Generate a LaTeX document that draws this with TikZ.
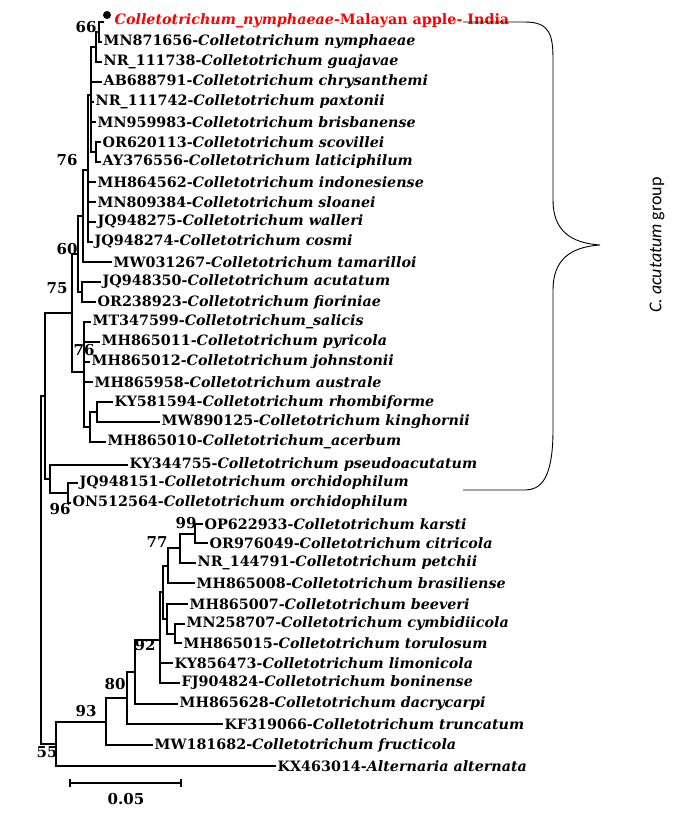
\documentclass[tikz,border=0pt]{standalone}
\usepackage{fontspec}
\setmainfont{DejaVu Serif}
\newfontfamily\labfont{Carlito}
\begin{document}
\begin{tikzpicture}[x=1pt,y=-1pt,
  leaf/.style={anchor=west,inner xsep=1.5pt,inner ysep=0pt,font=\fontsize{14.3}{15}\selectfont\bfseries},
  boot/.style={inner sep=0pt,font=\fontsize{15}{16}\selectfont\bfseries},
  br/.style={line width=1.2pt}]
\useasboundingbox (0,0) rectangle (685,816);
\newcommand\lf[5]{\node[leaf] (#1) at (#2,#3) {#4-\textit{#5}};}
% leaves
\coordinate (t1) at (104,22);
\node[leaf,text=red] (l1) at (113,21) {\textit{Colletotrichum\_nymphaeae}-Malayan apple- India};
\node[circle,fill=black,inner sep=0pt,minimum size=8pt] (dot) at (107,15) {};
\lf{l2}{102}{42}{MN871656}{Colletotrichum nymphaeae}
\lf{l3}{102}{62}{NR\_111738}{Colletotrichum guajavae}
\lf{l4}{102}{82}{AB688791}{Colletotrichum chrysanthemi}
\lf{l5}{94}{102}{NR\_111742}{Colletotrichum paxtonii}
\lf{l6}{96}{122}{MN959983}{Colletotrichum brisbanense}
\lf{l7}{101}{142}{OR620113}{Colletotrichum scovillei}
\lf{l8}{101}{162}{AY376556}{Colletotrichum laticiphilum}
\lf{l9}{96}{182}{MH864562}{Colletotrichum indonesiense}
\lf{l10}{96}{202}{MN809384}{Colletotrichum sloanei}
\lf{l11}{96}{222}{JQ948275}{Colletotrichum walleri}
\lf{l12}{93}{242}{JQ948274}{Colletotrichum cosmi}
\lf{l13}{112}{262}{MW031267}{Colletotrichum tamarilloi}
\lf{l14}{101}{282}{JQ948350}{Colletotrichum acutatum}
\lf{l15}{96}{302}{OR238923}{Colletotrichum fioriniae}
\lf{l16}{91}{322}{MT347599}{Colletotrichum\_salicis}
\lf{l17}{100}{342}{MH865011}{Colletotrichum pyricola}
\lf{l18}{90}{362}{MH865012}{Colletotrichum johnstonii}
\lf{l19}{93}{382}{MH865958}{Colletotrichum australe}
\lf{l20}{113}{402}{KY581594}{Colletotrichum rhombiforme}
\lf{l21}{160}{422}{MW890125}{Colletotrichum kinghornii}
\lf{l22}{106}{442}{MH865010}{Colletotrichum\_acerbum}
\lf{l23}{128}{465}{KY344755}{Colletotrichum pseudoacutatum}
\lf{l24}{78}{483}{JQ948151}{Colletotrichum orchidophilum}
\lf{l25}{71}{503}{ON512564}{Colletotrichum orchidophilum}
\lf{l26}{203}{524}{OP622933}{Colletotrichum karsti}
\lf{l27}{208}{543}{OR976049}{Colletotrichum citricola}
\lf{l28}{196}{563}{NR\_144791}{Colletotrichum petchii}
\lf{l29}{195}{583}{MH865008}{Colletotrichum brasiliense}
\lf{l30}{188}{604}{MH865007}{Colletotrichum beeveri}
\lf{l31}{185}{624}{MN258707}{Colletotrichum cymbidiicola}
\lf{l32}{182}{643}{MH865015}{Colletotrichum torulosum}
\lf{l33}{173}{663}{KY856473}{Colletotrichum limonicola}
\lf{l34}{180}{683}{FJ904824}{Colletotrichum boninense}
\lf{l35}{178}{704}{MH865628}{Colletotrichum dacrycarpi}
\lf{l36}{223}{724}{KF319066}{Colletotrichum truncatum}
\lf{l37}{153}{745}{MW181682}{Colletotrichum fructicola}
\lf{l38}{276}{766}{KX463014}{Alternaria alternata}
% internal nodes
\coordinate (N66) at (99,32);
\coordinate (Nnym) at (96,47);
\coordinate (Nor) at (96,152);
\coordinate (Ntop) at (91,95);
\coordinate (Nbig) at (88,170);
\coordinate (N76a) at (83,216);
\coordinate (Njq) at (82,292);
\coordinate (N60) at (78,254);
\coordinate (Nk) at (97,412);
\coordinate (Nkr) at (90,427);
\coordinate (N76b) at (84,372);
\coordinate (N75) at (72,313);
\coordinate (N96) at (68,493);
\coordinate (Nlow) at (50,479);
\coordinate (NA) at (45,396);
\coordinate (N99) at (195,534);
\coordinate (Nx) at (180,548);
\coordinate (N77) at (168,566);
\coordinate (Nmn) at (175,634);
\coordinate (Nmh) at (167,619);
\coordinate (Nb) at (163,592);
\coordinate (Npoly) at (160,640);
\coordinate (N92) at (135,672);
\coordinate (N80) at (127,698);
\coordinate (N93) at (106,722);
\coordinate (N55) at (56,744);
\coordinate (Root) at (41,570);
% branches
\begin{scope}[br]
\draw (N66) |- (t1); \draw (N66) |- (l2.west);
\draw (Nnym) |- (N66); \draw (Nnym) |- (l3.west);
\draw (Nor) |- (l7.west); \draw (Nor) |- (l8.west);
\draw (Ntop) |- (Nnym); \draw (Ntop) |- (l4.west); \draw (Ntop) |- (l5.west); \draw (Ntop) |- (l6.west); \draw (Ntop) |- (Nor);
\draw (Nbig) |- (Ntop); \draw (Nbig) |- (l9.west); \draw (Nbig) |- (l10.west); \draw (Nbig) |- (l11.west); \draw (Nbig) |- (l12.west);
\draw (N76a) |- (Nbig); \draw (N76a) |- (l13.west);
\draw (Njq) |- (l14.west); \draw (Njq) |- (l15.west);
\draw (N60) |- (N76a); \draw (N60) |- (Njq);
\draw (Nk) |- (l20.west); \draw (Nk) |- (l21.west);
\draw (Nkr) |- (Nk); \draw (Nkr) |- (l22.west);
\draw (N76b) |- (l16.west); \draw (N76b) |- (l17.west); \draw (N76b) |- (l18.west); \draw (N76b) |- (l19.west); \draw (N76b) |- (Nkr);
\draw (N75) |- (N60); \draw (N75) |- (N76b);
\draw (N96) |- (l24.west); \draw (N96) |- (l25.west);
\draw (Nlow) |- (l23.west); \draw (Nlow) |- (N96);
\draw (NA) |- (N75); \draw (NA) |- (Nlow);
\draw (N99) |- (l26.west); \draw (N99) |- (l27.west);
\draw (Nx) |- (N99); \draw (Nx) |- (l28.west);
\draw (N77) |- (Nx); \draw (N77) |- (l29.west);
\draw (Nmn) |- (l31.west); \draw (Nmn) |- (l32.west);
\draw (Nmh) |- (l30.west); \draw (Nmh) |- (Nmn);
\draw (Nb) |- (N77); \draw (Nb) |- (Nmh);
\draw (Npoly) |- (Nb); \draw (Npoly) |- (l33.west); \draw (Npoly) |- (l34.west);
\draw (N92) |- (Npoly); \draw (N92) |- (l35.west);
\draw (N80) |- (N92); \draw (N80) |- (l36.west);
\draw (N93) |- (N80); \draw (N93) |- (l37.west);
\draw (N55) |- (N93); \draw (N55) |- (l38.west);
\draw (Root) |- (NA); \draw (Root) |- (N55);
\end{scope}
% bootstrap
\node[boot] (b66) at (86,27) {66};
\node[boot] (b76a) at (67,160) {76};
\node[boot] (b60) at (67,249) {60};
\node[boot] (b75) at (57,288) {75};
\node[boot] (b76b) at (84,350) {76};
\node[boot] (b96) at (60,509) {96};
\node[boot] (b99) at (186,523) {99};
\node[boot] (b77) at (157,542) {77};
\node[boot] (b92) at (145,645) {92};
\node[boot] (b80) at (115,684) {80};
\node[boot] (b93) at (86,711) {93};
\node[boot] (b55) at (47,752) {55};
% scale bar
\coordinate (s1) at (70,783); \coordinate (s2) at (181,783);
\draw[line width=1.2pt] (s1) -- (s2);
\draw[line width=1.2pt] (s1) ++(0,-4) -- ++(0,8);
\draw[line width=1.2pt] (s2) ++(0,-4) -- ++(0,8);
\node[boot] (sc) at (126,799) {0.05};
% brace
\draw[line width=0.9pt] (463,22) -- (525,22) .. controls (550,22) and (553,35) .. (553,60) -- (553,200) .. controls (553,230) and (570,243) .. (600,245)
  .. controls (570,247) and (553,260) .. (553,290) -- (553,430) .. controls (553,480) and (540,490) .. (525,490) -- (463,490);
\node[rotate=90,font=\labfont\fontsize{18}{20}\selectfont] (grp) at (657,245) {\textit{C. acutatum} group};
\end{tikzpicture}
\end{document}
